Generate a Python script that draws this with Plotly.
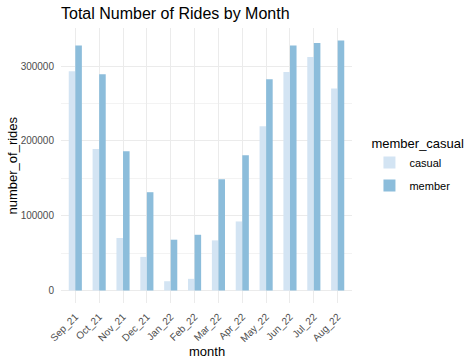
import plotly.graph_objects as go

months = ["Sep_21", "Oct_21", "Nov_21", "Dec_21", "Jan_22", "Feb_22",
          "Mar_22", "Apr_22", "May_22", "Jun_22", "Jul_22", "Aug_22"]
casual = [293000, 189000, 70200, 44900, 12400, 15600,
          67000, 92300, 219700, 292000, 312000, 269900]
member = [327500, 289000, 186000, 131400, 67900, 74500,
          148700, 180700, 282300, 327600, 330700, 334200]
y_ticks = [0, 100000, 200000, 300000]

ymax = max(max(casual), max(member))

fig = go.Figure()
fig.add_trace(go.Bar(x=months, y=casual, name="casual", marker_color="#d3e4f3",
                     marker_line_width=0, legendgroup="casual"))
fig.add_trace(go.Bar(x=months, y=member, name="member", marker_color="#8cbddb",
                     marker_line_width=0, legendgroup="member"))

fig.update_layout(
    width=474, height=363,
    barmode="group", bargap=0.45, bargroupgap=0,
    plot_bgcolor="white", paper_bgcolor="white",
    margin=dict(l=61, r=122, t=28, b=60, autoexpand=False),
    font=dict(family="Liberation Sans, Arial, sans-serif", color="#000000"),
    title=dict(text="Total Number of Rides by Month", x=61/474, xanchor="left",
               y=1 - 13/363, yanchor="middle", font=dict(size=16, color="#000000")),
    legend=dict(title=dict(text="member_casual", font=dict(size=13)),
                x=1.06, xanchor="left", y=0.625, yanchor="top",
                font=dict(size=11), tracegroupgap=4, itemwidth=30),
    showlegend=True,
    annotations=[
        dict(text="number_of_rides", textangle=-90, xref="paper", yref="paper",
             x=(12 - 61) / 291, xanchor="center", y=0.5, yanchor="middle",
             showarrow=False, font=dict(size=13, color="#000000")),
        dict(text="month", xref="paper", yref="paper",
             x=0.5, xanchor="center", y=-(351 - 303) / 275, yanchor="middle",
             showarrow=False, font=dict(size=13, color="#000000")),
    ],
)
fig.update_xaxes(
    categoryorder="array", categoryarray=months,
    range=[-0.6, len(months) - 0.4],
    showgrid=True, gridcolor="#ebebeb", gridwidth=1,
    tickangle=-45, tickfont=dict(size=10, color="#4d4d4d"),
    ticks="outside", ticklen=3, tickcolor="rgba(0,0,0,0)",
    zeroline=False, showline=False, automargin=False,
)
fig.update_yaxes(
    range=[-0.05 * ymax, 1.05 * ymax],
    tickvals=y_ticks, ticktext=[str(v) for v in y_ticks],
    showgrid=True, gridcolor="#ebebeb", gridwidth=1,
    minor=dict(dtick=50000, tick0=0, showgrid=True, gridcolor="#f3f3f3", gridwidth=0.6),
    tickfont=dict(size=10, color="#4d4d4d"),
    ticks="outside", ticklen=4, tickcolor="rgba(0,0,0,0)",
    zeroline=False, showline=False, automargin=False,
)

fig.write_html("out.html", config={"displayModeBar": False},
               post_script="document.body.style.margin='0px';document.body.style.overflow='hidden';")
